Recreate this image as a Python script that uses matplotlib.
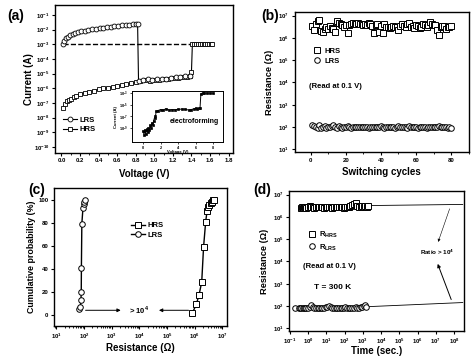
import matplotlib
matplotlib.use("Agg")
import matplotlib.pyplot as plt

plt.rcParams["font.family"] = ["Liberation Sans", "DejaVu Sans"]
plt.rcParams["font.weight"] = "bold"
plt.rcParams["mathtext.fontset"] = "custom"
plt.rcParams["mathtext.rm"] = "Liberation Sans"
plt.rcParams["mathtext.bf"] = "Liberation Sans:bold"
plt.rcParams["axes.linewidth"] = 1.0

# (a) I-V sweeps
v_lrs = [0.02, 0.03, 0.05, 0.07, 0.09, 0.12, 0.15, 0.18, 0.21, 0.25, 0.29, 0.33, 0.37,
         0.41, 0.45, 0.49, 0.53, 0.57, 0.61, 0.65, 0.69, 0.73, 0.77, 0.80, 0.82,
         0.83, 0.88, 0.93, 0.98, 1.03, 1.08, 1.13, 1.18, 1.23, 1.28, 1.33, 1.38]
i_lrs = [1.1e-3, 1.8e-3, 2.6e-3, 3.4e-3, 4.2e-3, 5.2e-3, 6.0e-3, 6.8e-3, 7.5e-3, 8.5e-3,
         9.5e-3, 1.05e-2, 1.15e-2, 1.25e-2, 1.35e-2, 1.45e-2, 1.55e-2, 1.68e-2, 1.8e-2,
         1.92e-2, 2.05e-2, 2.18e-2, 2.3e-2, 2.4e-2, 2.45e-2,
         3.2e-6, 3.6e-6, 4.5e-6, 3.8e-6, 4.0e-6, 4.2e-6, 4.5e-6, 5.0e-6, 5.5e-6, 6.0e-6,
         6.5e-6, 6.8e-6]
v_hrs = [0.02, 0.04, 0.06, 0.08, 0.10, 0.13, 0.16, 0.20, 0.25, 0.30, 0.35, 0.40, 0.45,
         0.50, 0.55, 0.60, 0.65, 0.70, 0.75, 0.80, 0.85, 0.90, 0.95, 1.00, 1.05, 1.10,
         1.15, 1.20, 1.25, 1.30, 1.35, 1.38, 1.40, 1.41, 1.43, 1.45, 1.47, 1.49, 1.51,
         1.53, 1.55, 1.57, 1.59, 1.61, 1.62]
i_hrs = [4.5e-8, 9e-8, 1.3e-7, 1.7e-7, 2.0e-7, 2.6e-7, 3.2e-7, 4.0e-7, 5.0e-7, 6.0e-7,
         7.0e-7, 8.5e-7, 1.0e-6, 1.1e-6, 1.25e-6, 1.4e-6, 1.6e-6, 1.9e-6, 2.2e-6, 2.6e-6,
         3.0e-6, 3.5e-6, 3.4e-6, 3.7e-6, 3.8e-6, 4.0e-6, 4.3e-6, 4.7e-6, 5.0e-6, 5.5e-6,
         5.8e-6, 6.5e-6, 1.2e-5, 1e-3, 1e-3, 1e-3, 1e-3, 1e-3, 1e-3, 1e-3, 1e-3, 1e-3,
         1e-3, 1e-3, 1e-3]
compliance = 1e-3

# inset: electroforming
v_form = [0.0, 0.1, 0.2, 0.3, 0.4, 0.5, 0.6, 0.7, 0.8, 0.9, 1.0, 1.1, 1.2, 1.3, 1.4, 1.5,
          1.7, 2.0, 2.3, 2.6, 3.0, 3.3, 3.6, 4.0, 4.4, 4.8, 5.2, 5.5, 5.8, 6.0, 6.2, 6.4,
          6.5, 6.6, 6.8, 7.0, 7.3, 7.6, 8.0]
i_form = [3e-10, 8e-11, 5e-10, 1e-10, 6e-10, 2e-10, 1e-9, 5e-10, 3e-9, 1e-9, 8e-9, 3e-9,
          2e-8, 6e-8, 1e-7, 8e-7, 1e-6, 1.5e-6, 1.3e-6, 2e-6, 1.2e-6, 1.5e-6, 1.4e-6,
          1.6e-6, 1.8e-6, 1.7e-6, 1.2e-6, 1.5e-6, 2e-6, 2.5e-6, 2.2e-6, 2.5e-6, 3e-6,
          8e-4, 1e-3, 1e-3, 1e-3, 1e-3, 1e-3]

# (b) endurance
cycles = list(range(1, 81))
r_hrs_b = [3.5, 2.2, 4.0, 5.5, 6.5, 2.0, 1.8, 2.5, 3.0, 2.6, 3.5, 2.8, 2.4, 1.9, 5.5, 4.5,
           4.0, 3.8, 3.2, 3.6, 1.7, 3.8, 4.2, 4.5, 4.0, 4.3, 4.5, 4.1, 4.2, 3.9, 4.0, 3.8,
           4.6, 4.0, 3.5, 1.7, 3.6, 4.2, 1.8, 3.4, 1.6, 4.0, 3.2, 3.0, 2.8, 3.1, 3.3, 3.2,
           3.0, 2.3, 3.4, 4.0, 3.5, 3.2, 4.2, 4.4, 3.0, 3.3, 2.9, 3.6, 3.5, 2.7, 3.0, 4.0,
           3.6, 3.2, 3.8, 5.0, 4.2, 3.8, 3.6, 2.2, 1.4, 3.0, 3.4, 3.3, 2.5, 3.1, 3.2, 3.3]
r_hrs_b = [r * 1e6 for r in r_hrs_b]
r_lrs_b = [130, 115, 105, 95, 120, 90, 100, 110, 95, 105, 100, 115, 125, 100, 95, 110,
           105, 90, 100, 105, 110, 100, 95, 100, 105, 100, 98, 102, 100, 97, 103, 100,
           95, 105, 100, 98, 102, 100, 105, 110, 100, 95, 100, 105, 98, 102, 100, 95,
           105, 110, 100, 98, 102, 100, 95, 110, 105, 100, 98, 102, 95, 100, 105, 100,
           98, 92, 100, 105, 102, 98, 100, 105, 110, 100, 98, 102, 100, 95, 100, 92]

# (c) cumulative probability
r_lrs_c = [68, 74, 78, 80, 81, 84, 92, 98, 104, 108]
p_lrs_c = [4.5, 7, 12.5, 19.5, 41, 79, 92.5, 96.5, 98.5, 100]
r_hrs_c = [0.83e6, 1.15e6, 1.45e6, 1.8e6, 2.1e6, 2.5e6, 2.8e6, 3.1e6, 3.4e6, 3.8e6,
           4.3e6, 4.6e6, 5.0e6]
p_hrs_c = [1.5, 9, 17.5, 28.5, 59, 81, 90, 93.5, 95.5, 97, 98.5, 99.5, 100]

# (d) retention
t_hrs = [0.4, 0.45, 0.5, 0.6, 0.7, 0.8, 1.0, 1.2, 1.5, 1.8, 2.2, 2.7, 3.3, 4, 5, 6, 7.5, 9,
         11, 14, 17, 21, 26, 32, 40, 50, 60, 75, 90, 110, 140, 170, 210, 260, 320, 400,
         500, 620, 760, 940, 1150, 1400, 1700, 2000]
r_hrs_d = [2.6e6, 2.7e6, 2.6e6, 2.8e6, 2.7e6, 2.6e6, 2.9e6, 3.0e6, 2.8e6, 2.7e6, 2.6e6,
           2.8e6, 2.7e6, 2.9e6, 2.8e6, 2.7e6, 2.6e6, 2.8e6, 2.9e6, 2.7e6, 2.8e6, 2.6e6,
           2.8e6, 2.7e6, 2.9e6, 2.8e6, 2.7e6, 2.8e6, 2.6e6, 2.9e6, 2.8e6, 2.7e6, 3.0e6,
           3.3e6, 3.6e6, 4.0e6, 3.2e6, 2.9e6, 2.8e6, 3.0e6, 2.9e6, 3.1e6, 2.9e6, 3.0e6]
t_lrs = [0.2, 0.3, 0.35, 0.4, 0.5, 0.6, 0.7, 0.8, 1.0, 1.2, 1.5, 1.8, 2.2, 2.7, 3.3, 4, 5,
         6, 7.5, 9, 11, 14, 17, 21, 26, 32, 40, 50, 60, 75, 90, 110, 140, 170, 210, 260,
         320, 400, 500, 620, 760, 940, 1150, 1300, 1500]
r_lrs_d = [80, 82, 80, 84, 82, 80, 85, 83, 86, 95, 110, 95, 85, 84, 86, 85, 84, 86, 85,
           88, 90, 100, 92, 86, 85, 84, 86, 85, 84, 86, 85, 87, 85, 84, 86, 85, 86, 88,
           86, 85, 88, 90, 105, 110, 95]
t_ext = [2000, 3e8]
r_hrs_ext = [3.2e6, 3.6e6]
r_lrs_ext = [95, 145]

mk = dict(markerfacecolor="white", markeredgecolor="black", color="black")

fig = plt.figure(figsize=(4.74, 3.58), dpi=100)


def style(ax, tick_fs=4.3):
    ax.tick_params(axis="both", which="major", labelsize=tick_fs, length=2.5, width=0.8,
                   pad=1.5)
    ax.tick_params(axis="both", which="minor", length=1.5, width=0.6)


# ---------- (a)
ax = fig.add_axes([0.116, 0.573, 0.376, 0.413])
ax.set_yscale("log")
ax.plot([v_lrs[0], 1.42], [compliance, compliance], "--", color="black", lw=1.0)
ax.plot(v_hrs, i_hrs, "-s", ms=3.5, mew=0.6, lw=0.8, label="HRS", **mk)
ax.plot(v_lrs, i_lrs, "-o", ms=3.5, mew=0.6, lw=0.8, label="LRS", **mk)
ax.set_xlim(-0.07, 1.85)
ax.set_ylim(10 ** -10.4, 10 ** -0.32)
ax.set_xticks([0.0, 0.2, 0.4, 0.6, 0.8, 1.0, 1.2, 1.4, 1.6, 1.8])
ax.set_xticks([0.1, 0.3, 0.5, 0.7, 0.9, 1.1, 1.3, 1.5, 1.7], minor=True)
ax.set_yticks([10.0 ** k for k in range(-10, 0)])
ax.yaxis.set_minor_locator(matplotlib.ticker.NullLocator())
style(ax)
ax.set_xlabel("Voltage (V)", fontsize=7, fontweight="bold")
ax.set_ylabel("Current (A)", fontsize=7, fontweight="bold")
ax.xaxis.set_label_coords(0.5, -0.108)
ax.yaxis.set_label_coords(-0.118, 0.5)
h, l = ax.get_legend_handles_labels()
ax.legend(h[::-1], l[::-1], loc="lower left", bbox_to_anchor=(0.02, 0.1), frameon=False,
          fontsize=5.5, handlelength=1.8, labelspacing=0.3, borderaxespad=0.2,
          handletextpad=0.3)
fig.text(0.015, 0.955, "(a)", fontsize=10, fontweight="bold", va="center")

# inset
ins = fig.add_axes([0.278, 0.603, 0.192, 0.142])
ins.set_yscale("log")
ins.plot(v_form, i_form, "-s", ms=1.5, mew=0.5, lw=0.7, color="black",
         markerfacecolor="black")
ins.set_xlim(-1.3, 9.1)
ins.set_ylim(10 ** -11.4, 10 ** -2.7)
ins.set_xticks([0, 2, 4, 6, 8])
ins.set_yticks([1e-9, 1e-7, 1e-5, 1e-3])
ins.yaxis.set_minor_locator(matplotlib.ticker.NullLocator())
ins.tick_params(axis="both", labelsize=2.8, length=1.5, width=0.5, pad=1)
for s in ins.spines.values():
    s.set_linewidth(0.7)
ins.set_xlabel("Voltage (V)", fontsize=3, fontweight="bold", labelpad=0.5)
ins.set_ylabel("Current (A)", fontsize=3, fontweight="bold", labelpad=0.5)
ins.text(0.42, 0.38, "electroforming", transform=ins.transAxes, fontsize=5,
         fontweight="bold")

# ---------- (b)
ax = fig.add_axes([0.622, 0.575, 0.367, 0.391])
ax.set_yscale("log")
ax.plot(cycles, r_hrs_b, "s", ms=4, mew=0.7, linestyle="none", label="HRS", **mk)
ax.plot(cycles, r_lrs_b, "o", ms=4, mew=0.7, linestyle="none", label="LRS", **mk)
ax.set_xlim(-9, 90)
ax.set_ylim(10 ** 0.88, 10 ** 7.15)
ax.set_xticks([0, 20, 40, 60, 80])
ax.set_xticks([10, 30, 50, 70, 90], minor=True)
ax.set_yticks([10.0 ** k for k in range(1, 8)])
ax.yaxis.set_minor_locator(matplotlib.ticker.NullLocator())
style(ax)
ax.set_xlabel("Switching cycles", fontsize=7, fontweight="bold")
ax.set_ylabel("Resistance (Ω)", fontsize=6.7, fontweight="bold")
ax.xaxis.set_label_coords(0.5, -0.107)
ax.yaxis.set_label_coords(-0.12, 0.5)
ax.legend(loc="upper left", bbox_to_anchor=(0.08, 0.78), frameon=False, fontsize=5.5,
          handlelength=1.0, labelspacing=0.3, borderaxespad=0.2, handletextpad=0.5)
ax.text(0.08, 0.455, "(Read at 0.1 V)", transform=ax.transAxes, fontsize=5.5,
        fontweight="bold")
fig.text(0.552, 0.955, "(b)", fontsize=10, fontweight="bold", va="center")

# ---------- (c)
ax = fig.add_axes([0.114, 0.089, 0.365, 0.385])
ax.set_xscale("log")
ax.plot(r_hrs_c, p_hrs_c, "-s", ms=4, mew=0.7, lw=1.0, label="HRS", **mk)
ax.plot(r_lrs_c, p_lrs_c, "-o", ms=4, mew=0.7, lw=1.0, label="LRS", **mk)
ax.set_xlim(10 ** 0.92, 10 ** 7.17)
ax.set_ylim(-10, 110)
ax.set_xticks([10.0 ** k for k in range(1, 8)])
ax.set_yticks([0, 20, 40, 60, 80, 100])
style(ax)
ax.set_xlabel("Resistance (Ω)", fontsize=7, fontweight="bold")
ax.set_ylabel("Cumulative probability (%)", fontsize=6.4, fontweight="bold")
ax.xaxis.set_label_coords(0.5, -0.123)
ax.yaxis.set_label_coords(-0.104, 0.5)
ax.legend(loc="upper left", bbox_to_anchor=(0.42, 0.79), frameon=False, fontsize=5.5,
          handlelength=1.8, labelspacing=0.3, borderaxespad=0.2, handletextpad=0.3)
ax.annotate("", xy=(10 ** 3.43, 3.8), xytext=(10 ** 1.96, 3.8),
            arrowprops=dict(arrowstyle="-|>", color="black", lw=0.7, mutation_scale=5))
ax.annotate("", xy=(10 ** 4.61, 3.8), xytext=(10 ** 5.88, 3.8),
            arrowprops=dict(arrowstyle="-|>", color="black", lw=0.7, mutation_scale=5))
ax.text(10 ** 4.0, 3.8, r"> 10$^\mathbf{4}$", fontsize=5.5, fontweight="bold",
        ha="center", va="center")
fig.text(0.06, 0.468, "(c)", fontsize=10, fontweight="bold", va="center")

# ---------- (d)
ax = fig.add_axes([0.610, 0.075, 0.369, 0.391])
ax.set_xscale("log")
ax.set_yscale("log")
ax.plot(t_ext, r_hrs_ext, "-", color="black", lw=0.6)
ax.plot(t_ext, r_lrs_ext, "-", color="black", lw=0.6)
ax.plot(t_hrs, r_hrs_d, "s", ms=4, mew=0.7, linestyle="none", label=r"R$_\mathbf{HRS}$",
        **mk)
ax.plot(t_lrs, r_lrs_d, "o", ms=4, mew=0.7, linestyle="none", label=r"R$_\mathbf{LRS}$",
        **mk)
ax.set_xlim(10 ** -1.04, 10 ** 8.55)
ax.set_ylim(10 ** 0.88, 10 ** 7.15)
ax.set_xticks([10.0 ** k for k in range(-1, 9)])
ax.set_yticks([10.0 ** k for k in range(1, 8)])
ax.xaxis.set_minor_locator(matplotlib.ticker.NullLocator())
ax.yaxis.set_minor_locator(matplotlib.ticker.NullLocator())
style(ax)
ax.set_xlabel("Time (sec.)", fontsize=7, fontweight="bold")
ax.set_ylabel("Resistance (Ω)", fontsize=6.7, fontweight="bold")
ax.xaxis.set_label_coords(0.5, -0.107)
ax.yaxis.set_label_coords(-0.114, 0.5)
ax.legend(loc="upper left", bbox_to_anchor=(0.08, 0.76), frameon=False, fontsize=5.5,
          handlelength=1.0, labelspacing=0.3, borderaxespad=0.2, handletextpad=0.5)
ax.text(0.08, 0.45, "(Read at 0.1 V)", transform=ax.transAxes, fontsize=5.5,
        fontweight="bold")
ax.text(0.14, 0.3, "T = 300 K", transform=ax.transAxes, fontsize=6, fontweight="bold")
ax.annotate("", xy=(10 ** 7.08, 10 ** 4.76), xytext=(10 ** 7.81, 10 ** 6.48),
            arrowprops=dict(arrowstyle="-|>", color="black", lw=0.4, mutation_scale=4))
ax.annotate("", xy=(10 ** 7.05, 10 ** 4.01), xytext=(10 ** 7.9, 10 ** 2.18),
            arrowprops=dict(arrowstyle="-|>", color="black", lw=0.7, mutation_scale=5))
ax.text(10 ** 7.1, 10 ** 4.4, r"Ratio > 10$^\mathbf{4}$", fontsize=4.5, fontweight="bold",
        ha="center", va="center")
fig.text(0.535, 0.468, "(d)", fontsize=10, fontweight="bold", va="center")

fig.savefig("out.png", dpi=100)
